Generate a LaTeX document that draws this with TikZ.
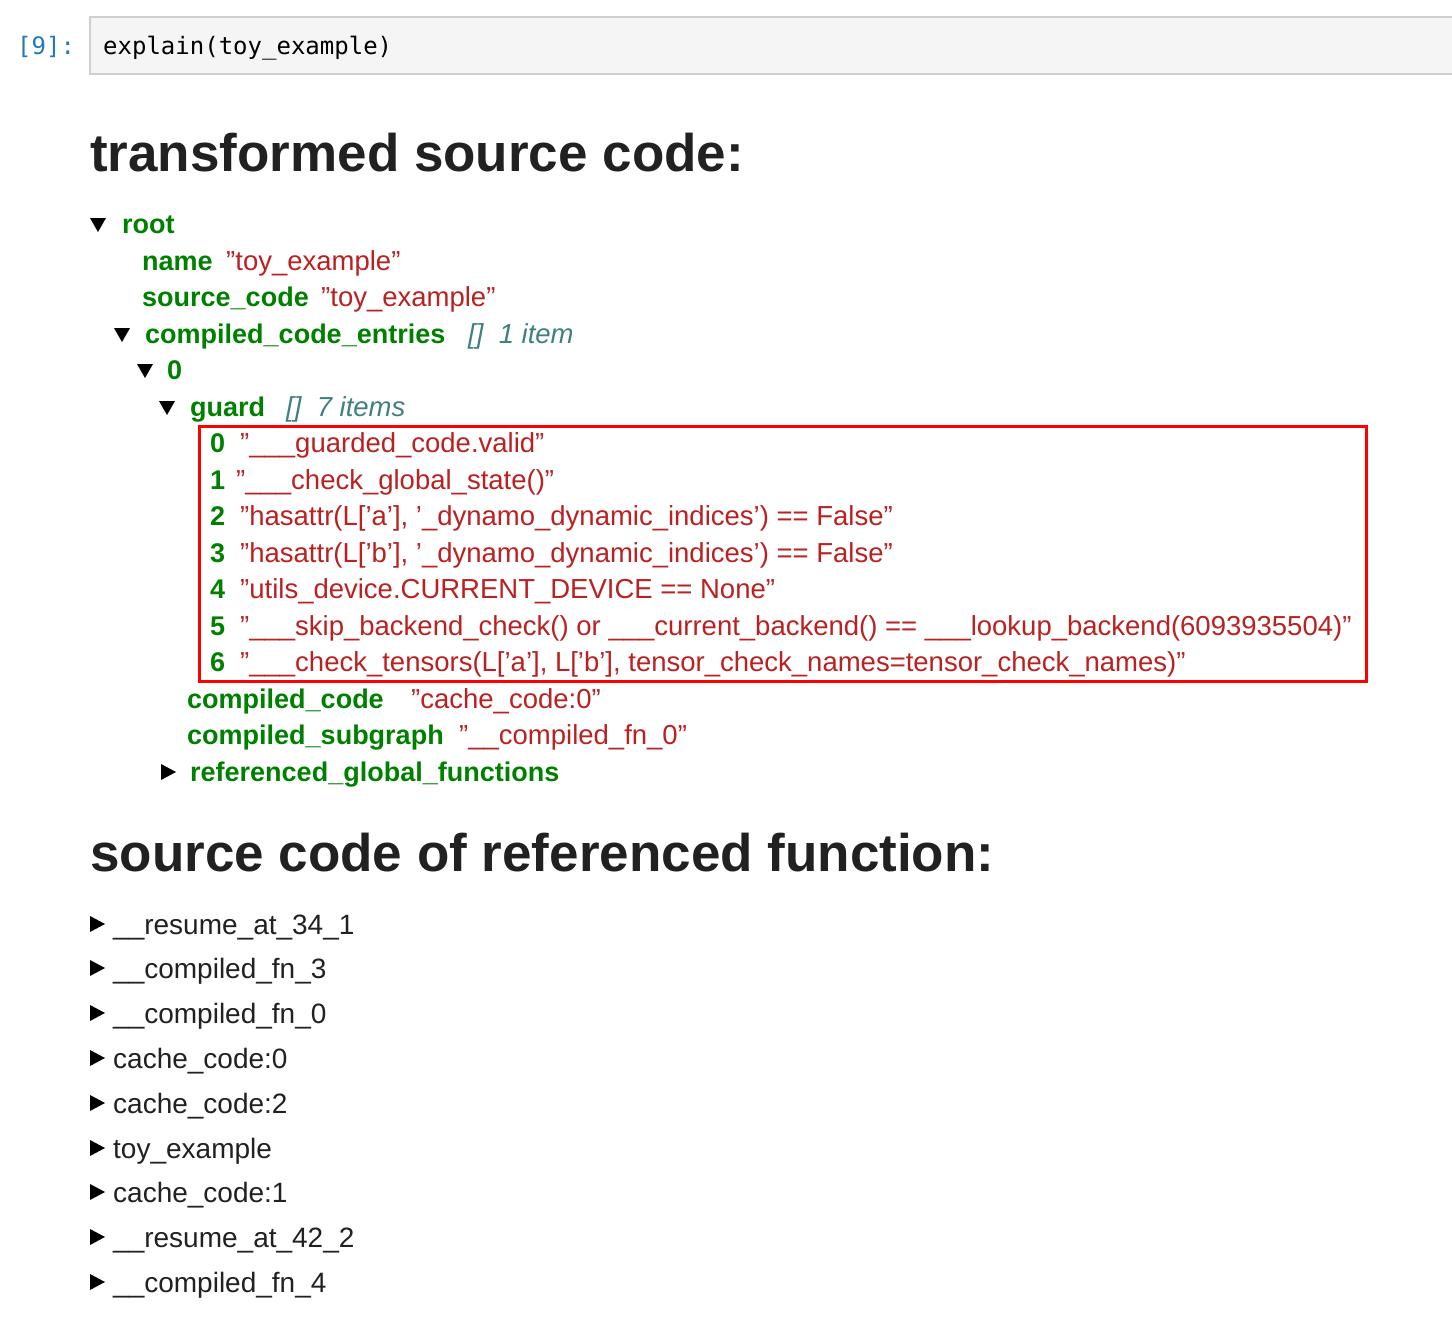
\documentclass[tikz,border=0pt]{standalone}
\usepackage{fontspec}
\setmainfont{Liberation Sans}
\newfontfamily\monof{DejaVu Sans Mono}
\newcommand{\qq}{\symbol{34}}
\newcommand{\ap}{\symbol{39}}
\definecolor{kgreen}{RGB}{0,128,0}
\definecolor{kred}{RGB}{186,33,33}
\definecolor{kteal}{RGB}{64,128,128}
\definecolor{kblue}{RGB}{48,63,159}
\begin{document}
\begin{tikzpicture}[x=1pt,y=-1pt,
  txt/.style={anchor=base west,inner sep=0pt,font=\fontsize{27.5}{30}\selectfont},
  key/.style={txt,text=kgreen,font=\fontsize{27}{30}\selectfont\bfseries},
  val/.style={txt,text=kred},
  meta/.style={txt,text=kteal,font=\fontsize{27.5}{30}\selectfont\itshape},
  head/.style={anchor=base west,inner sep=0pt,font=\fontsize{53}{60}\selectfont\bfseries,text=black!87},
  plain/.style={txt,text=black!87,font=\fontsize{28}{30}\selectfont}]
\useasboundingbox (0,0) rectangle (1452,1328);
\fill[white] (0,0) rectangle (1452,1328);
\draw[fill=black!4,draw=black!19,line width=1.5] (90,17) rectangle (1460,74);
\node[anchor=base west,inner sep=0pt,font=\monof\fontsize{24}{28}\selectfont,text=kblue!70!cyan] (pr) at (17,54) {[9]:};
\node[anchor=base west,inner sep=0pt,font=\monof\fontsize{24}{28}\selectfont] (cd) at (103,54) {explain(toy\_example)};
\node[head] (h1) at (90,171) {transformed source code:};
\node[head] (h2) at (90,871) {source code of referenced function:};
\newcommand{\dn}[2]{\fill (#1-8,#2-6) -- (#1+8,#2-6) -- (#1,#2+8) -- cycle;}
\newcommand{\rt}[2]{\fill (#1-7,#2-8) -- (#1+8,#2) -- (#1-7,#2+8) -- cycle;}
\dn{98}{224}\dn{122}{334}\dn{145}{370}\dn{167}{407}\rt{168}{772}
\node[key] (root) at (122,233) {root};
\node[key] (nm) at (142,270) {name};
\node[val] (nmv) at (226,270) {\qq toy\_example\qq};
\node[key] (sc) at (142,306) {source\_code};
\node[val] (scv) at (321,306) {\qq toy\_example\qq};
\node[key] (cce) at (145,343) {compiled\_code\_entries};
\node[meta] (ccem) at (468,343) {[]\ \ 1 item};
\node[key] (z) at (167,379) {0};
\node[key] (gd) at (190,416) {guard};
\node[meta] (gdm) at (286,416) {[]\ \ 7 items};
\node[key] (g0) at (210,452) {0}; \node[val] (g0v) at (240,452) {\qq\_\_\_guarded\_code.valid\qq};
\node[key] (g1) at (210,489) {1}; \node[val] (g1v) at (236,489) {\qq\_\_\_check\_global\_state()\qq};
\node[key] (g2) at (210,525) {2}; \node[val] (g2v) at (240,525) {\qq hasattr(L[\ap a\ap], \ap\_dynamo\_dynamic\_indices\ap) == False\qq};
\node[key] (g3) at (210,562) {3}; \node[val] (g3v) at (240,562) {\qq hasattr(L[\ap b\ap], \ap\_dynamo\_dynamic\_indices\ap) == False\qq};
\node[key] (g4) at (210,598) {4}; \node[val] (g4v) at (240,598) {\qq utils\_device.CURRENT\_DEVICE == None\qq};
\node[key] (g5) at (210,635) {5}; \node[val] (g5v) at (240,635) {\qq\_\_\_skip\_backend\_check() or \_\_\_current\_backend() == \_\_\_lookup\_backend(6093935504)\qq};
\node[key] (g6) at (210,671) {6}; \node[val] (g6v) at (240,671) {\qq\_\_\_check\_tensors(L[\ap a\ap], L[\ap b\ap], tensor\_check\_names=tensor\_check\_names)\qq};
\draw[red,line width=3] (199,426) rectangle (1366,681);
\node[key] (cc) at (187,708) {compiled\_code};
\node[val] (ccv) at (411,708) {\qq cache\_code:0\qq};
\node[key] (cs) at (187,744) {compiled\_subgraph};
\node[val] (csv) at (459,744) {\qq\_\_compiled\_fn\_0\qq};
\node[key] (rgf) at (190,781) {referenced\_global\_functions};
\foreach \t/\y [count=\i] in {\_\_resume\_at\_34\_1/924,\_\_compiled\_fn\_3/968,\_\_compiled\_fn\_0/1013,cache\_code:0/1058,cache\_code:2/1103,toy\_example/1148,cache\_code:1/1192,\_\_resume\_at\_42\_2/1237,\_\_compiled\_fn\_4/1282}{
  \fill (90,\y-8) -- (105,\y) -- (90,\y+8) -- cycle;
  \node[plain] (l\i) at (113,\y+10) {\t};
}
\end{tikzpicture}
\end{document}
